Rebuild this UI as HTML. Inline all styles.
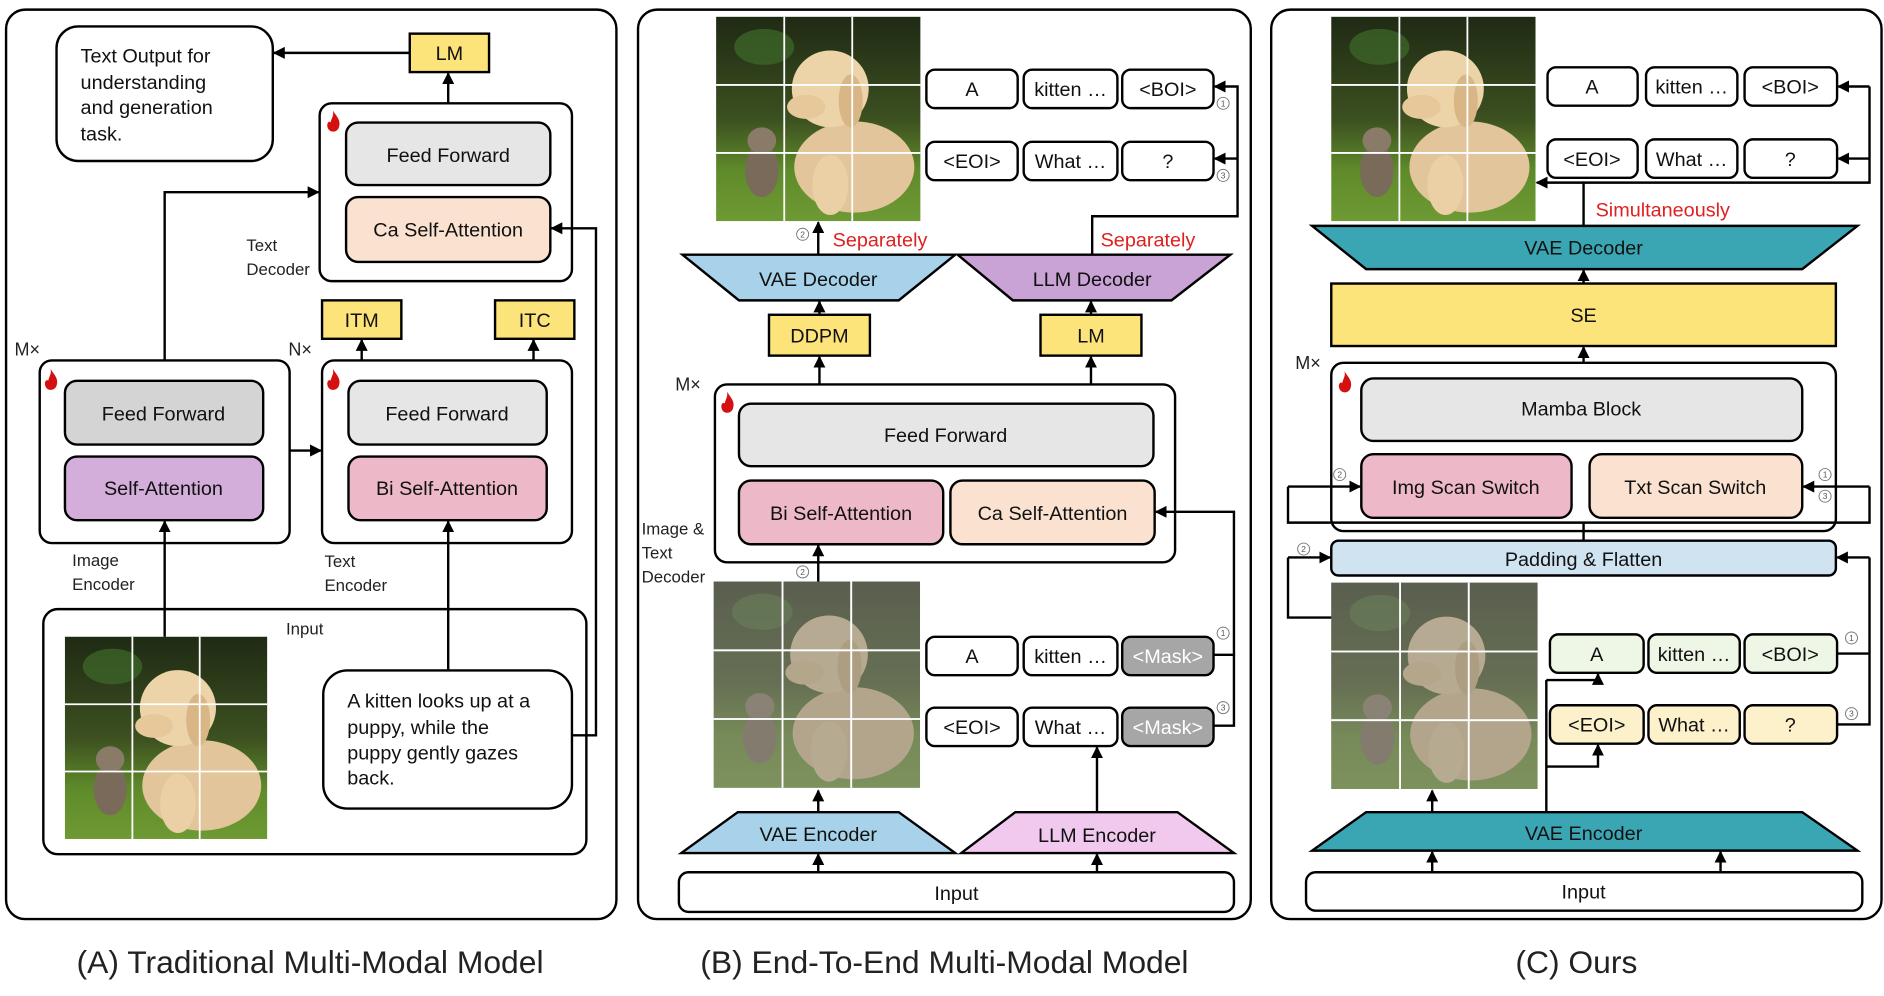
<!DOCTYPE html>
<html><head><meta charset="utf-8"><style>
html,body{margin:0;padding:0;background:#fff;}
svg{display:block;font-family:"Liberation Sans",Arial,sans-serif;}
</style></head><body>
<svg width="1884" height="996" viewBox="0 0 1568 829" xmlns="http://www.w3.org/2000/svg">
<defs>
<marker id="ar" markerWidth="10" markerHeight="10" refX="9" refY="5" orient="auto" markerUnits="userSpaceOnUse"><path d="M0,0 L10,5 L0,10 z" fill="#000"/></marker>
<linearGradient id="bg" x1="0" y1="0" x2="0" y2="1"><stop offset="0" stop-color="#1f2a14"/><stop offset="0.5" stop-color="#3c5020"/><stop offset="0.75" stop-color="#5f8a2a"/><stop offset="1" stop-color="#6e9a34"/></linearGradient>
<g id="photo">
<rect x="0" y="0" width="170" height="170" fill="url(#bg)"/>
<ellipse cx="40" cy="25" rx="25" ry="15" fill="#3f6a2a" opacity="0.7"/>
<ellipse cx="115" cy="125" rx="50" ry="38" fill="#e2c59a"/>
<ellipse cx="95" cy="60" rx="32" ry="32" fill="#ecd3a8"/>
<ellipse cx="75" cy="75" rx="16" ry="10" fill="#e6c89a"/>
<ellipse cx="112" cy="70" rx="10" ry="22" fill="#d8b686"/>
<ellipse cx="95" cy="140" rx="15" ry="25" fill="#ead0a4"/>
<ellipse cx="38" cy="128" rx="14" ry="22" fill="#7a6a5a"/>
<ellipse cx="38" cy="103" rx="12" ry="11" fill="#8a7a68"/>
<line x1="56.7" y1="0" x2="56.7" y2="170" stroke="#fff" stroke-width="1.5"/>
<line x1="113.3" y1="0" x2="113.3" y2="170" stroke="#fff" stroke-width="1.5"/>
<line x1="0" y1="56.7" x2="170" y2="56.7" stroke="#fff" stroke-width="1.5"/>
<line x1="0" y1="113.3" x2="170" y2="113.3" stroke="#fff" stroke-width="1.5"/>
</g>
<g id="noisy">
<use href="#photo"/>
<rect x="0" y="0" width="170" height="170" fill="#8a8a80" opacity="0.55"/>
<line x1="56.7" y1="0" x2="56.7" y2="170" stroke="#fff" stroke-width="1.5"/>
<line x1="113.3" y1="0" x2="113.3" y2="170" stroke="#fff" stroke-width="1.5"/>
<line x1="0" y1="56.7" x2="170" y2="56.7" stroke="#fff" stroke-width="1.5"/>
<line x1="0" y1="113.3" x2="170" y2="113.3" stroke="#fff" stroke-width="1.5"/>
</g>
<path id="fire" d="M5,0 C8,5 12,8 10,14 C9,18 3,19 1,15 C-1,11 2,8 3,10 C4,6 6,4 5,0 z" fill="#d41010"/>
</defs>

<g fill="none" stroke="#000" stroke-width="2">
<rect x="5" y="8" width="508" height="757" rx="16"/>
<rect x="531" y="8" width="510" height="757" rx="16"/>
<rect x="1058" y="8" width="508" height="757" rx="16"/>
</g>
<g font-size="26.5" text-anchor="middle" fill="#222">
<text x="258" y="810">(A) Traditional Multi-Modal Model</text>
<text x="786" y="810">(B) End-To-End Multi-Modal Model</text>
<text x="1312" y="810">(C) Ours</text>
</g>

<!-- Panel A -->
<g stroke="#000" stroke-width="2">
<rect x="47" y="22" width="180" height="112" rx="18" fill="#fff"/>
<rect x="341" y="28" width="66" height="32" fill="#fde47a"/>
<rect x="266" y="86" width="210" height="148" rx="10" fill="#fff"/>
<rect x="288" y="102" width="170" height="52" rx="10" fill="#e6e6e6"/>
<rect x="288" y="164" width="170" height="54" rx="10" fill="#fbe2d0"/>
<rect x="268" y="250" width="66" height="32" fill="#fde47a"/>
<rect x="412" y="250" width="66" height="32" fill="#fde47a"/>
<rect x="33" y="300" width="208" height="152" rx="10" fill="#fff"/>
<rect x="54" y="317" width="165" height="53" rx="10" fill="#d4d4d4"/>
<rect x="54" y="380" width="165" height="53" rx="10" fill="#d3aedb"/>
<rect x="268" y="300" width="208" height="152" rx="10" fill="#fff"/>
<rect x="290" y="317" width="165" height="53" rx="10" fill="#e6e6e6"/>
<rect x="290" y="380" width="165" height="53" rx="10" fill="#edb9c8"/>
<rect x="36" y="507" width="452" height="204" rx="12" fill="#fff"/>
<rect x="269" y="558" width="207" height="115" rx="20" fill="#fff"/>
</g>
<use href="#photo" transform="translate(54,530) scale(0.99)"/>
<g stroke="#000" stroke-width="2" fill="none" marker-end="url(#ar)">
<line x1="341" y1="44" x2="228" y2="44"/>
<line x1="373" y1="86" x2="373" y2="61"/>
<line x1="301" y1="300" x2="301" y2="283"/>
<line x1="444" y1="300" x2="444" y2="283"/>
<line x1="241" y1="375" x2="267" y2="375"/>
<polyline points="137,300 137,160 265,160"/>
<line x1="137" y1="530" x2="137" y2="434"/>
<line x1="373" y1="558" x2="373" y2="434"/>
<polyline points="476,612 496,612 496,190 459,190"/>
</g>
<g font-size="16.5" fill="#111">
<text x="67" y="52">Text Output for</text><text x="67" y="74">understanding</text><text x="67" y="95">and generation</text><text x="67" y="117">task.</text>
<text x="374" y="50" text-anchor="middle">LM</text>
<text x="373" y="135" text-anchor="middle">Feed Forward</text>
<text x="373" y="197" text-anchor="middle">Ca Self-Attention</text>
<text x="301" y="272" text-anchor="middle">ITM</text>
<text x="445" y="272" text-anchor="middle">ITC</text>
<text x="136" y="350" text-anchor="middle">Feed Forward</text>
<text x="136" y="412" text-anchor="middle">Self-Attention</text>
<text x="372" y="350" text-anchor="middle">Feed Forward</text>
<text x="372" y="412" text-anchor="middle">Bi Self-Attention</text>
<text x="289" y="589">A kitten looks up at a</text><text x="289" y="611">puppy, while the</text><text x="289" y="632">puppy gently gazes</text><text x="289" y="653">back.</text>
</g>
<g font-size="14" fill="#222">
<text x="205" y="209">Text</text><text x="205" y="229">Decoder</text>
<text x="12" y="296" font-size="15">M×</text><text x="240" y="296" font-size="15">N×</text>
<text x="60" y="471">Image</text><text x="60" y="491">Encoder</text>
<text x="270" y="472">Text</text><text x="270" y="492">Encoder</text>
<text x="238" y="528">Input</text>
</g>
<use href="#fire" transform="translate(272,92)"/>
<use href="#fire" transform="translate(37,307)"/>
<use href="#fire" transform="translate(272,307)"/>

<!-- Panel B -->
<use href="#photo" transform="translate(596,14)"/>
<use href="#noisy" transform="translate(594,484) scale(1.01)"/>
<g stroke="#000" stroke-width="2">
<polygon points="568,212 795,212 748,250 615,250" fill="#a8d2ea"/>
<polygon points="797,212 1024,212 975,250 843,250" fill="#c9a3d5"/>
<rect x="640" y="262" width="84" height="34" fill="#fde47a"/>
<rect x="866" y="262" width="84" height="34" fill="#fde47a"/>
<rect x="595" y="320" width="383" height="148" rx="10" fill="#fff"/>
<rect x="615" y="336" width="345" height="52" rx="10" fill="#e6e6e6"/>
<rect x="615" y="400" width="170" height="53" rx="10" fill="#edb9c8"/>
<rect x="791" y="400" width="170" height="53" rx="10" fill="#fbe2d0"/>
<polygon points="567,710 795,710 748,676 614,676" fill="#a8d2ea"/>
<polygon points="800,710 1027,710 980,676 845,676" fill="#f2c9ee"/>
<rect x="565" y="726" width="462" height="33" rx="8" fill="#fff"/>
<g fill="#fff">
<rect x="771" y="58" width="76" height="32" rx="7"/><rect x="852" y="58" width="78" height="32" rx="7"/><rect x="934" y="58" width="76" height="32" rx="7"/>
<rect x="771" y="118" width="76" height="32" rx="7"/><rect x="852" y="118" width="78" height="32" rx="7"/><rect x="934" y="118" width="76" height="32" rx="7"/>
<rect x="771" y="530" width="76" height="32" rx="7"/><rect x="852" y="530" width="78" height="32" rx="7"/>
<rect x="771" y="589" width="76" height="32" rx="7"/><rect x="852" y="589" width="78" height="32" rx="7"/>
</g>
<rect x="934" y="530" width="76" height="32" rx="7" fill="#a6a6a6"/>
<rect x="934" y="589" width="76" height="32" rx="7" fill="#a6a6a6"/>
</g>
<g stroke="#000" stroke-width="2" fill="none" marker-end="url(#ar)">
<line x1="681" y1="212" x2="681" y2="185"/>
<polyline points="909,212 909,180 1030,180 1030,72 1011,72"/>
<polyline points="1030,132 1011,132"/>
<line x1="682" y1="262" x2="682" y2="251"/>
<line x1="908" y1="262" x2="908" y2="251"/>
<line x1="682" y1="320" x2="682" y2="297"/>
<line x1="908" y1="320" x2="908" y2="297"/>
<line x1="681" y1="484" x2="681" y2="454"/>
<polyline points="1010,545 1027,545 1027,426 962,426"/>
<line x1="681" y1="676" x2="681" y2="658"/>
<line x1="913" y1="676" x2="913" y2="622"/>
<line x1="681" y1="726" x2="681" y2="711"/>
<line x1="913" y1="726" x2="913" y2="711"/>
</g>
<polyline points="1010,604 1027,604 1027,545" stroke="#000" stroke-width="2" fill="none"/>
<g font-size="16.5" fill="#111" text-anchor="middle">
<text x="681" y="238">VAE Decoder</text><text x="909" y="238">LLM Decoder</text>
<text x="682" y="285">DDPM</text><text x="908" y="285">LM</text>
<text x="787" y="368">Feed Forward</text>
<text x="700" y="433">Bi Self-Attention</text><text x="876" y="433">Ca Self-Attention</text>
<text x="681" y="700">VAE Encoder</text><text x="913" y="701">LLM Encoder</text>
<text x="796" y="749">Input</text>
<text x="809" y="80">A</text><text x="891" y="80">kitten …</text><text x="972" y="80">&lt;BOI&gt;</text>
<text x="809" y="140">&lt;EOI&gt;</text><text x="891" y="140">What …</text><text x="972" y="140">?</text>
<text x="809" y="552">A</text><text x="891" y="552">kitten …</text><text x="972" y="552" fill="#fff">&lt;Mask&gt;</text>
<text x="809" y="611">&lt;EOI&gt;</text><text x="891" y="611">What …</text><text x="972" y="611" fill="#fff">&lt;Mask&gt;</text>
</g>
<g font-size="16.5" fill="#e02020"><text x="693" y="205">Separately</text><text x="916" y="205">Separately</text></g>
<g font-size="14" fill="#222"><text x="562" y="325" font-size="15">M×</text><text x="534" y="445">Image &amp;</text><text x="534" y="465">Text</text><text x="534" y="485">Decoder</text></g>
<use href="#fire" transform="translate(600,326)"/>

<!-- Panel C -->
<use href="#photo" transform="translate(1108,14)"/>
<use href="#noisy" transform="translate(1108,485) scale(1.01)"/>
<g stroke="#000" stroke-width="2">
<polygon points="1092,188 1546,188 1500,224 1137,224" fill="#3aa6b4"/>
<rect x="1108" y="236" width="420" height="52" fill="#fde47a"/>
<rect x="1108" y="302" width="420" height="140" rx="10" fill="#fff"/>
<rect x="1133" y="315" width="367" height="52" rx="10" fill="#e6e6e6"/>
<rect x="1133" y="378" width="175" height="53" rx="10" fill="#edb9c8"/>
<rect x="1323" y="378" width="177" height="53" rx="10" fill="#fbe2d0"/>
<rect x="1108" y="450" width="420" height="29" rx="6" fill="#cfe3f1"/>
<polygon points="1092,708 1546,708 1500,676 1137,676" fill="#3aa6b4"/>
<rect x="1087" y="726" width="463" height="32" rx="8" fill="#fff"/>
<g fill="#fff">
<rect x="1288" y="56" width="75" height="32" rx="7"/><rect x="1370" y="56" width="76" height="32" rx="7"/><rect x="1452" y="56" width="77" height="32" rx="7"/>
<rect x="1288" y="116" width="75" height="32" rx="7"/><rect x="1370" y="116" width="76" height="32" rx="7"/><rect x="1452" y="116" width="77" height="32" rx="7"/>
</g>
<g fill="#eef6e6"><rect x="1290" y="528" width="78" height="32" rx="7"/><rect x="1372" y="528" width="76" height="32" rx="7"/><rect x="1452" y="528" width="77" height="32" rx="7"/></g>
<g fill="#fdf1cc"><rect x="1290" y="587" width="78" height="32" rx="7"/><rect x="1372" y="587" width="76" height="32" rx="7"/><rect x="1452" y="587" width="77" height="32" rx="7"/></g>
</g>
<g stroke="#000" stroke-width="2" fill="none">
<polyline points="1318,188 1318,152 1556,152 1556,72"/>
<polyline points="1072,405 1072,435 1556,435 1556,405"/>
<line x1="1318" y1="435" x2="1318" y2="450"/>
<polyline points="1108,514 1072,514 1072,464"/>
<polyline points="1529,603 1556,603 1556,464"/>
<line x1="1529" y1="544" x2="1556" y2="544"/>
<polyline points="1287,676 1287,566"/>
</g>
<g stroke="#000" stroke-width="2" fill="none" marker-end="url(#ar)">
<line x1="1318" y1="152" x2="1279" y2="152"/>
<line x1="1556" y1="72" x2="1530" y2="72"/>
<line x1="1556" y1="132" x2="1530" y2="132"/>
<line x1="1318" y1="236" x2="1318" y2="225"/>
<line x1="1318" y1="302" x2="1318" y2="289"/>
<line x1="1072" y1="405" x2="1132" y2="405"/>
<line x1="1556" y1="405" x2="1501" y2="405"/>
<line x1="1072" y1="464" x2="1107" y2="464"/>
<line x1="1556" y1="464" x2="1529" y2="464"/>
<polyline points="1287,566 1330,566 1330,561"/>
<polyline points="1287,638 1330,638 1330,620"/>
<line x1="1192" y1="676" x2="1192" y2="658"/>
<line x1="1192" y1="726" x2="1192" y2="709"/>
<line x1="1432" y1="726" x2="1432" y2="709"/>
</g>
<g font-size="16.5" fill="#111" text-anchor="middle">
<text x="1325" y="78">A</text><text x="1408" y="78">kitten …</text><text x="1490" y="78">&lt;BOI&gt;</text>
<text x="1325" y="138">&lt;EOI&gt;</text><text x="1408" y="138">What …</text><text x="1490" y="138">?</text>
<text x="1318" y="212">VAE Decoder</text>
<text x="1318" y="268">SE</text>
<text x="1316" y="346">Mamba Block</text>
<text x="1220" y="411">Img Scan Switch</text><text x="1411" y="411">Txt Scan Switch</text>
<text x="1318" y="471">Padding &amp; Flatten</text>
<text x="1329" y="550">A</text><text x="1410" y="550">kitten …</text><text x="1490" y="550">&lt;BOI&gt;</text>
<text x="1329" y="609">&lt;EOI&gt;</text><text x="1410" y="609">What …</text><text x="1490" y="609">?</text>
<text x="1318" y="699">VAE Encoder</text>
<text x="1318" y="748">Input</text>
</g>
<text x="1328" y="180" font-size="16.5" fill="#e02020">Simultaneously</text>
<text x="1078" y="307" font-size="15" fill="#222">M×</text>
<use href="#fire" transform="translate(1114,309)"/>

<!-- circled numbers -->
<g font-size="7" text-anchor="middle" fill="#555" stroke-width="0.8">
<g><circle cx="1018" cy="86" r="5" fill="#fff" stroke="#777"/><text x="1018" y="88.5">1</text></g>
<g><circle cx="1018" cy="146" r="5" fill="#fff" stroke="#777"/><text x="1018" y="148.5">3</text></g>
<g><circle cx="668" cy="195" r="5" fill="#fff" stroke="#777"/><text x="668" y="197.5">2</text></g>
<g><circle cx="668" cy="476" r="5" fill="#fff" stroke="#777"/><text x="668" y="478.5">2</text></g>
<g><circle cx="1018" cy="527" r="5" fill="#fff" stroke="#777"/><text x="1018" y="529.5">1</text></g>
<g><circle cx="1018" cy="589" r="5" fill="#fff" stroke="#777"/><text x="1018" y="591.5">3</text></g>
<g><circle cx="1115" cy="395" r="5" fill="#fff" stroke="#777"/><text x="1115" y="397.5">2</text></g>
<g><circle cx="1519" cy="395" r="5" fill="#fff" stroke="#777"/><text x="1519" y="397.5">1</text></g>
<g><circle cx="1519" cy="413" r="5" fill="#fff" stroke="#777"/><text x="1519" y="415.5">3</text></g>
<g><circle cx="1085" cy="457" r="5" fill="#fff" stroke="#777"/><text x="1085" y="459.5">2</text></g>
<g><circle cx="1541" cy="531" r="5" fill="#fff" stroke="#777"/><text x="1541" y="533.5">1</text></g>
<g><circle cx="1541" cy="594" r="5" fill="#fff" stroke="#777"/><text x="1541" y="596.5">3</text></g>
</g>
</svg>
</body></html>
